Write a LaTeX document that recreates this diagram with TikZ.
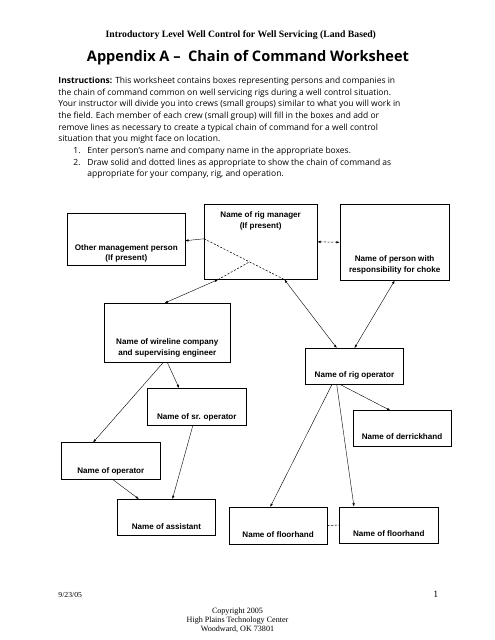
\documentclass[tikz,border=0pt]{standalone}
\usepackage{fontspec}
\setmainfont{Liberation Serif}
\newfontfamily\opensans{Open Sans}
\newfontfamily\arialfont{Liberation Sans}
\usepackage{tikz}
\usetikzlibrary{
    positioning,
    arrows.meta,
    calc,
    fit
}
\definecolor{BoxLine}{RGB}{0,0,0}

\begin{document}
\begin{tikzpicture}[
            x=1.2364pt, y=-1.2364pt,
            >={Latex[length=4pt,width=3pt]},
            every node/.style={inner sep=0pt},
            box/.style={draw=BoxLine, line width=0.7pt},
            boxtext/.style={font=\arialfont\bfseries\fontsize{10}{13}\selectfont,
                            align=center, text depth=2.2pt, anchor=south},
            link/.style={line width=0.5pt},
            dashlink/.style={line width=0.65pt, dash pattern=on 2.6pt off 1.9pt},
        ]
          \useasboundingbox (0,0) rectangle (495,640);

          % Header and instructions
          \node[font=\bfseries\fontsize{12}{14}\selectfont, anchor=base] (header) at (240.8,37.3)
            {Introductory Level Well Control for Well Servicing (Land Based)};
          \node[font=\opensans\bfseries\fontsize{18}{20}\selectfont, anchor=base] (title) at (248,61.2)
            {Appendix A – \ Chain of Command Worksheet};
          \node[font=\opensans\fontsize{10.5}{14.4}\selectfont, align=left, anchor=north west] (instr) at (58.3,77)
            {\textbf{Instructions:} This worksheet contains boxes representing persons and companies in\\
             the chain of command common on well servicing rigs during a well control situation.\\
             Your instructor will divide you into crews (small groups) similar to what you will work in\\
             the field. Each member of each crew (small group) will fill in the boxes and add or\\
             remove lines as necessary to create a typical chain of command for a well control\\
             situation that you might face on location.\\
             \hspace*{18.5pt}\makebox[17.4pt][l]{1.}Enter person’s name and company name in the appropriate boxes.\\
             \hspace*{18.5pt}\makebox[17.4pt][l]{2.}Draw solid and dotted lines as appropriate to show the chain of command as\\
             \hspace*{35.9pt}appropriate for your company, rig, and operation.};

          % Boxes
          \node[box, fit={(67.7,213.3) (185,265)}] (other) {};
          \node[box, fit={(204.3,204.3) (317,279.3)}] (mgr) {};
          \node[box, fit={(340,204.3) (449.3,280.3)}] (choke) {};
          \node[box, fit={(104,303.3) (230.5,362)}] (wire) {};
          \node[box, fit={(305.5,348.3) (403.5,384.5)}] (rigop) {};
          \node[box, fit={(147.7,388.3) (246,425)}] (srop) {};
          \node[box, fit={(352.9,410.7) (451.3,446.7)}] (derrick) {};
          \node[box, fit={(61.7,442.7) (160,479.3)}] (oper) {};
          \node[box, fit={(117.3,499.3) (215.7,535.7)}] (asst) {};
          \node[box, fit={(229,507.2) (327.3,543.8)}] (floorA) {};
          \node[box, fit={(339.3,506.8) (438.3,543.4)}] (floorB) {};

          % Box texts
          \node[boxtext] (mgrlab) at ([yshift=-32.5pt]mgr.north) {Name of rig manager\\(If present)};
          \node[boxtext, above=3.2pt of other.south] (otherlab) {Other management person\\(If present)};
          \node[boxtext, above=8.2pt of choke.south] (chokelab) {Name of person with\\responsibility for choke};
          \node[boxtext, above=6.4pt of wire.south] (wirelab) {Name of wireline company\\and supervising engineer};
          \node[boxtext, above=7.2pt of rigop.south] (rigoplab) {Name of rig operator};
          \node[boxtext, above=4.5pt of srop.south] (sroplab) {Name of sr. operator};
          \node[boxtext, above=6.6pt of derrick.south] (derricklab) {Name of derrickhand};
          \node[boxtext, above=5.7pt of oper.south] (operlab) {Name of operator};
          \node[boxtext, above=6.2pt of asst.south] (asstlab) {Name of assistant};
          \node[boxtext, above=6.2pt of floorA.south] (floorAlab) {Name of floorhand};
          \node[boxtext, above=6.2pt of floorB.south] (floorBlab) {Name of floorhand};

          % Lines round the rig manager
          \coordinate (mgrW) at ($(mgr.north west)!.46!(mgr.south west)$);
          \coordinate (mgrS) at ($(mgr.south west)!.71!(mgr.south east)$);
          \coordinate (mgrSW) at ($(mgr.south west)!.124!(mgr.south east)$);
          \draw[link, ->] (mgrW) -- ($(other.north east)!.53!(other.south east)$);
          \draw[dashlink] (mgrW) -- (mgrS);
          \draw[dashlink] (mgrSW) -- ($(mgrW)!.566!(mgrS)$);
          \draw[link, <->] (mgrSW) -- ($(wire.north west)!.48!(wire.north east)$);
          \draw[dashlink, <->] (mgr.east) -- (choke.west);
          \draw[link, <->] (mgrS) -- ($(rigop.north west)!.32!(rigop.north east)$);
          \draw[link, <->] (choke.south) -- (rigop.north);

          % Wireline crew
          \draw[link, ->] ($(wire.south west)!.47!(wire.south east)$) -- ($(oper.north west)!.32!(oper.north east)$);
          \draw[link, ->] ($(wire.south west)!.5!(wire.south east)$) -- ($(srop.north west)!.32!(srop.north east)$);
          \draw[link, ->] ($(oper.south west)!.52!(oper.south east)$) -- ($(asst.north west)!.22!(asst.north east)$);
          \draw[link, ->] ($(srop.south west)!.46!(srop.south east)$) -- ($(asst.north west)!.56!(asst.north east)$);

          % Rig crew
          \draw[link, ->] ($(rigop.south west)!.27!(rigop.south east)$) -- ($(floorA.north west)!.42!(floorA.north east)$);
          \draw[link, ->] ($(rigop.south west)!.32!(rigop.south east)$) -- ($(floorB.north west)!.15!(floorB.north east)$);
          \draw[link, ->] ($(rigop.south west)!.36!(rigop.south east)$) -- ($(derrick.north west)!.38!(derrick.north east)$);
          \draw[dashlink] (floorA.east) -- (floorB.west);

          % Footer
          \node[font=\fontsize{9.5}{11}\selectfont, anchor=base west] (date) at (58.3,597.5) {9/23/05};
          \node[font=\fontsize{12}{14}\selectfont, anchor=base west] (page) at (433.3,597.5) {1};
          \node[font=\fontsize{10}{11.5}\selectfont, align=center, anchor=north] (copy) at (237.5,607.5)
            {Copyright 2005\\High Plains Technology Center\\Woodward, OK 73801};
        \end{tikzpicture}
\end{document}
